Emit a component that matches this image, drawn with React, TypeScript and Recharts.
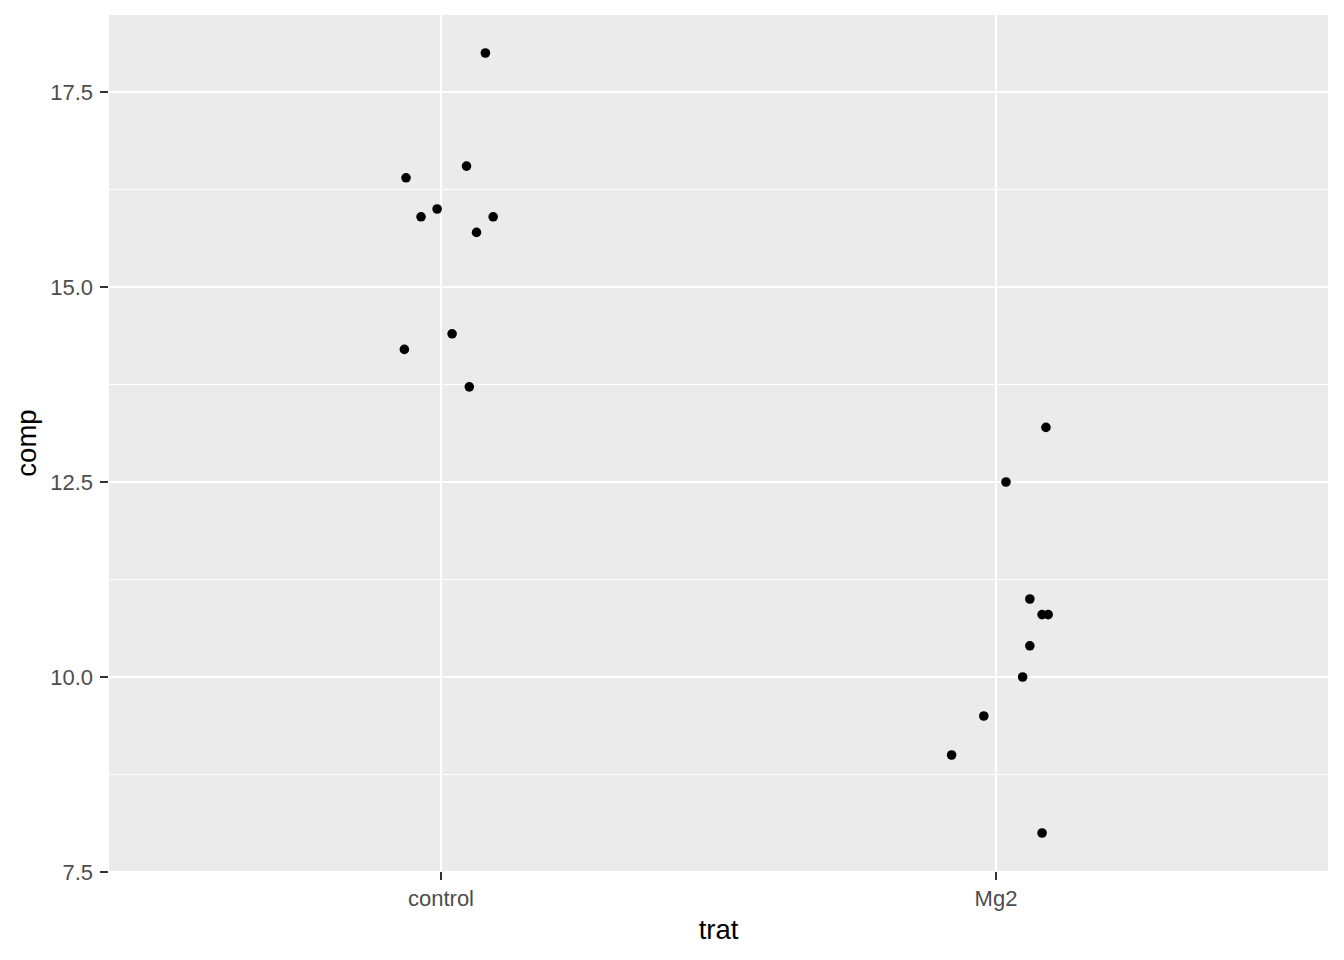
import React from 'react';
import { ScatterChart, Scatter, XAxis, YAxis, CartesianGrid } from 'recharts';

// groups on the discrete x axis (1 = control, 2 = Mg2)
const categories = ['control', 'Mg2'];

// jittered x positions and comp values
const controlX = [1.08, 0.937, 1.046, 0.964, 0.993, 1.094, 1.064, 1.02, 0.934, 1.051];
const controlComp = [18.0, 16.4, 16.55, 15.9, 16.0, 15.9, 15.7, 14.4, 14.2, 13.72];

const mg2X = [2.09, 2.018, 2.061, 2.083, 2.094, 2.061, 2.048, 1.978, 1.92, 2.083];
const mg2Comp = [13.2, 12.5, 11.0, 10.8, 10.8, 10.4, 10.0, 9.5, 9.0, 8.0];

const yTicks = [7.5, 10, 12.5, 15, 17.5];
const yMinor = [8.75, 11.25, 13.75, 16.25];

const points = [
    ...controlX.map((x, i) => ({ x, comp: controlComp[i] })),
    ...mg2X.map((x, i) => ({ x, comp: mg2Comp[i] })),
];

const font = '"Liberation Sans", Arial, sans-serif';
const tickStyle = { fill: '#4D4D4D', fontSize: 22, fontFamily: font };

const Dot = (props: any) => <circle cx={props.cx} cy={props.cy} r={4.8} fill="#000" />;

export default function App() {
    return (
        <div style={{ position: 'absolute', left: 0, top: 0, background: '#fff' }}>
            <ScatterChart width={1344} height={960} margin={{ top: 14, right: 15, bottom: 0, left: 0 }}>
                <CartesianGrid
                    fill="#EBEBEB"
                    stroke="#fff"
                    strokeWidth={1}
                    vertical={false}
                    horizontalValues={yMinor}
                />
                <CartesianGrid stroke="#fff" strokeWidth={2} />
                <XAxis
                    type="number"
                    dataKey="x"
                    domain={[0.4, 2.6]}
                    ticks={[1, 2]}
                    tickFormatter={(v: number) => categories[v - 1]}
                    axisLine={false}
                    tickLine={{ stroke: '#333333', strokeWidth: 2 }}
                    tickSize={8}
                    tickMargin={10}
                    height={88}
                    tick={tickStyle}
                    label={{ value: 'trat', position: 'insideBottom', offset: 21, fill: '#000', fontSize: 27.5, fontFamily: font }}
                />
                <YAxis
                    type="number"
                    dataKey="comp"
                    domain={[7.5, 18.5]}
                    ticks={yTicks}
                    tickFormatter={(v: number) => v.toFixed(1)}
                    axisLine={false}
                    tickLine={{ stroke: '#333333', strokeWidth: 2 }}
                    tickSize={8}
                    tickMargin={7}
                    width={108}
                    tick={tickStyle}
                    label={{ value: 'comp', angle: -90, position: 'insideLeft', offset: 26, fill: '#000', fontSize: 27.5, fontFamily: font, style: { textAnchor: 'middle' } }}
                />
                <Scatter data={points} fill="#000" shape={Dot} isAnimationActive={false} />
            </ScatterChart>
        </div>
    );
}
